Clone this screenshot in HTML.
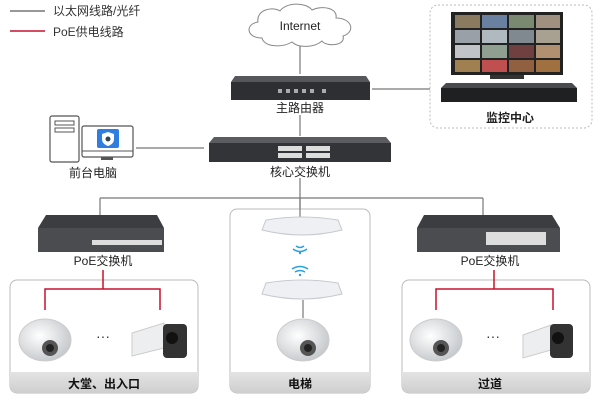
<!DOCTYPE html>
<html><head><meta charset="utf-8"><style>
html,body{margin:0;padding:0;background:#fff;}
svg{display:block;font-family:"Liberation Sans","Noto Sans CJK SC",sans-serif;}
</style></head><body>
<svg width="600" height="400" viewBox="0 0 600 400" xmlns="http://www.w3.org/2000/svg">
<defs>
<linearGradient id="band" x1="0" y1="0" x2="0" y2="1"><stop offset="0" stop-color="#e4e4e4"/><stop offset="1" stop-color="#cfcfcf"/></linearGradient>
<radialGradient id="dome" cx="0.4" cy="0.4" r="0.7"><stop offset="0" stop-color="#fff"/><stop offset="1" stop-color="#bfc3c7"/></radialGradient>
</defs>
<!-- legend -->
<line x1="10" y1="11" x2="45" y2="11" stroke="#777" stroke-width="1.5"/>
<text x="53" y="15" font-size="12" fill="#333">以太网线路/光纤</text>
<line x1="10" y1="31" x2="45" y2="31" stroke="#c8102e" stroke-width="1.5"/>
<text x="53" y="36" font-size="12" fill="#333">PoE供电线路</text>
<!-- cloud -->
<path d="M262,38 C246,38 245,24 258,22 C256,10 272,6 280,11 C286,2 306,2 312,10 C322,5 338,8 336,18 C352,18 356,32 343,36 C346,46 326,47 322,41 C314,48 298,48 292,42 C282,48 264,47 262,38 Z" fill="#fff" stroke="#888" stroke-width="1"/>
<text x="300" y="30" font-size="12" text-anchor="middle" fill="#222">Internet</text>
<!-- lines -->
<g stroke="#777" stroke-width="1.2" fill="none">
<line x1="300" y1="46" x2="300" y2="74"/>
<line x1="372" y1="89" x2="442" y2="89"/>
<line x1="300" y1="115" x2="300" y2="136"/>
<line x1="136" y1="148" x2="204" y2="148"/>
<line x1="300" y1="178" x2="300" y2="215"/>
<line x1="100" y1="198" x2="483" y2="198"/>
<line x1="100" y1="198" x2="100" y2="216"/>
<line x1="483" y1="198" x2="483" y2="216"/>
</g>
<!-- router -->
<polygon points="235,76 366,76 370,82 231,82" fill="#55575b"/>
<rect x="231" y="82" width="139" height="18" fill="#2e2f32"/>
<g fill="#aaa"><rect x="278" y="89" width="4" height="4"/><rect x="286" y="89" width="4" height="4"/><rect x="294" y="89" width="4" height="4"/><rect x="302" y="89" width="4" height="4"/><rect x="310" y="89" width="4" height="4"/><rect x="322" y="89" width="4" height="4"/></g>
<text x="300" y="112" font-size="12" text-anchor="middle" fill="#222">主路由器</text>
<!-- monitor center -->
<rect x="430" y="5" width="162" height="123" rx="8" fill="#fff" stroke="#bbb" stroke-dasharray="2,2"/>
<rect x="451" y="12" width="112" height="63" fill="#222"/>
<g>
<rect x="455" y="15" width="25" height="13" fill="#8a7a60"/><rect x="482" y="15" width="25" height="13" fill="#6a80a0"/><rect x="509" y="15" width="25" height="13" fill="#7a8a70"/><rect x="536" y="15" width="24" height="13" fill="#a09080"/>
<rect x="455" y="30" width="25" height="13" fill="#9aa0a8"/><rect x="482" y="30" width="25" height="13" fill="#b0b8c0"/><rect x="509" y="30" width="25" height="13" fill="#808890"/><rect x="536" y="30" width="24" height="13" fill="#a8a090"/>
<rect x="455" y="45" width="25" height="13" fill="#c0c4c8"/><rect x="482" y="45" width="25" height="13" fill="#90a090"/><rect x="509" y="45" width="25" height="13" fill="#704040"/><rect x="536" y="45" width="24" height="13" fill="#b09070"/>
<rect x="455" y="60" width="25" height="12" fill="#a08050"/><rect x="482" y="60" width="25" height="12" fill="#c05050"/><rect x="509" y="60" width="25" height="12" fill="#906040"/><rect x="536" y="60" width="24" height="12" fill="#a07040"/>
</g>
<rect x="490" y="75" width="34" height="4" fill="#333"/>
<polygon points="446,83 572,83 577,88 441,88" fill="#4a4b4e"/>
<rect x="441" y="88" width="136" height="14" fill="#1f2022"/>
<text x="510" y="122" font-size="12" font-weight="bold" text-anchor="middle" fill="#222">监控中心</text>
<!-- core switch -->
<polygon points="214,137 386,137 391,143 209,143" fill="#5a5c60"/>
<rect x="209" y="143" width="182" height="19" fill="#333438"/>
<g fill="#ddd">
<rect x="278" y="146" width="24" height="5"/><rect x="278" y="153" width="24" height="5"/><rect x="306" y="146" width="24" height="5"/><rect x="306" y="153" width="24" height="5"/></g>
<text x="300" y="176" font-size="12" text-anchor="middle" fill="#222">核心交换机</text>
<!-- PC -->
<rect x="50" y="116" width="29" height="46" rx="2" fill="#fff" stroke="#555" stroke-width="1.2"/>
<rect x="55" y="121" width="19" height="4" fill="#fff" stroke="#555"/>
<rect x="55" y="128" width="19" height="4" fill="#fff" stroke="#555"/>
<rect x="82" y="126" width="51" height="31" rx="2" fill="#fff" stroke="#555" stroke-width="1.2"/>
<line x1="82" y1="151" x2="133" y2="151" stroke="#555"/>
<rect x="97" y="129" width="22" height="19" rx="2" fill="#2f7de1"/>
<path d="M108,132 l6,2 v5 c0,4 -3,6 -6,7 c-3,-1 -6,-3 -6,-7 v-5 z" fill="#fff"/>
<circle cx="108" cy="139" r="2.5" fill="#345"/>
<rect x="101" y="157" width="12" height="3" fill="#555"/>
<text x="93" y="177" font-size="12" text-anchor="middle" fill="#222">前台电脑</text>
<!-- left PoE switch -->
<polygon points="46,215 157,215 164,228 38,228" fill="#3c3d40"/>
<rect x="38" y="228" width="126" height="24" fill="#4a4c50"/>
<rect x="92" y="240" width="70" height="5" fill="#ddd"/>
<text x="103" y="265" font-size="12" text-anchor="middle" fill="#222">PoE交换机</text>
<!-- right PoE switch -->
<polygon points="424,215 552,215 560,228 417,228" fill="#3c3d40"/>
<rect x="417" y="228" width="143" height="24" fill="#4a4c50"/>
<rect x="486" y="232" width="60" height="13" fill="#ddd"/>
<text x="490" y="265" font-size="12" text-anchor="middle" fill="#222">PoE交换机</text>
<!-- boxes -->
<rect x="10" y="280" width="188" height="113" rx="7" fill="#fff" stroke="#bbb"/>
<path d="M10,372 h188 v14 a7,7 0 0 1 -7,7 h-174 a7,7 0 0 1 -7,-7 z" fill="url(#band)"/>
<text x="104" y="388" font-size="12" font-weight="bold" text-anchor="middle" fill="#111">大堂、出入口</text>
<rect x="230" y="209" width="140" height="184" rx="7" fill="#fff" stroke="#bbb"/>
<path d="M230,372 h140 v14 a7,7 0 0 1 -7,7 h-126 a7,7 0 0 1 -7,-7 z" fill="url(#band)"/>
<text x="300" y="388" font-size="12" font-weight="bold" text-anchor="middle" fill="#111">电梯</text>
<rect x="402" y="280" width="188" height="113" rx="7" fill="#fff" stroke="#bbb"/>
<path d="M402,372 h188 v14 a7,7 0 0 1 -7,7 h-174 a7,7 0 0 1 -7,-7 z" fill="url(#band)"/>
<text x="490" y="388" font-size="12" font-weight="bold" text-anchor="middle" fill="#111">过道</text>
<line x1="300" y1="198" x2="300" y2="218" stroke="#777" stroke-width="1.2"/>
<line x1="303" y1="300" x2="303" y2="318" stroke="#777" stroke-width="1.2"/>
<!-- red lines -->
<g stroke="#c8102e" stroke-width="1.5" fill="none">
<polyline points="45,310 45,289 160,289 160,310"/><line x1="103" y1="270" x2="103" y2="289"/>
<polyline points="436,310 436,289 553,289 553,310"/><line x1="494" y1="270" x2="494" y2="289"/>
</g>
<!-- APs -->
<path d="M266,220 q36,-6 72,0 l4,10 q-40,10 -80,0 z" fill="#eef0f3" stroke="#c5c9ce"/>
<path d="M266,283 q36,-6 72,0 l4,11 q-40,10 -80,0 z" fill="#eef0f3" stroke="#c5c9ce"/>
<g fill="none" stroke="#2aa0e0" stroke-width="1.5">
<path d="M296,246 q4,3 8,0"/><path d="M293,249 q7,5 14,0"/>
<path d="M295,272 q5,-3 10,0"/><path d="M292,269 q8,-5 16,0"/></g>
<circle cx="300" cy="253" r="1.2" fill="#2aa0e0"/><circle cx="300" cy="275" r="1.2" fill="#2aa0e0"/>
<!-- cameras -->
<g>
<ellipse cx="45" cy="340" rx="26" ry="21" fill="url(#dome)" stroke="#ccc"/><circle cx="50" cy="348" r="8" fill="#555"/><circle cx="50" cy="348" r="4" fill="#222"/>
<ellipse cx="303" cy="340" rx="26" ry="21" fill="url(#dome)" stroke="#ccc"/><circle cx="308" cy="348" r="8" fill="#555"/><circle cx="308" cy="348" r="4" fill="#222"/>
<ellipse cx="436" cy="340" rx="26" ry="21" fill="url(#dome)" stroke="#ccc"/><circle cx="441" cy="348" r="8" fill="#555"/><circle cx="441" cy="348" r="4" fill="#222"/>
<path d="M132,333 l32,-10 v25 l-32,8 z" fill="#eceef0" stroke="#ccc"/><rect x="163" y="324" width="24" height="34" rx="4" fill="#333"/><circle cx="172" cy="338" r="6" fill="#111"/>
<path d="M523,335 l28,-10 v25 l-28,8 z" fill="#eceef0" stroke="#ccc"/><rect x="550" y="324" width="23" height="34" rx="4" fill="#333"/><circle cx="558" cy="338" r="6" fill="#111"/>
</g>
<text x="103" y="341" font-size="14" text-anchor="middle" fill="#333">···</text>
<text x="493" y="341" font-size="14" text-anchor="middle" fill="#333">···</text>
</svg>
</body></html>
